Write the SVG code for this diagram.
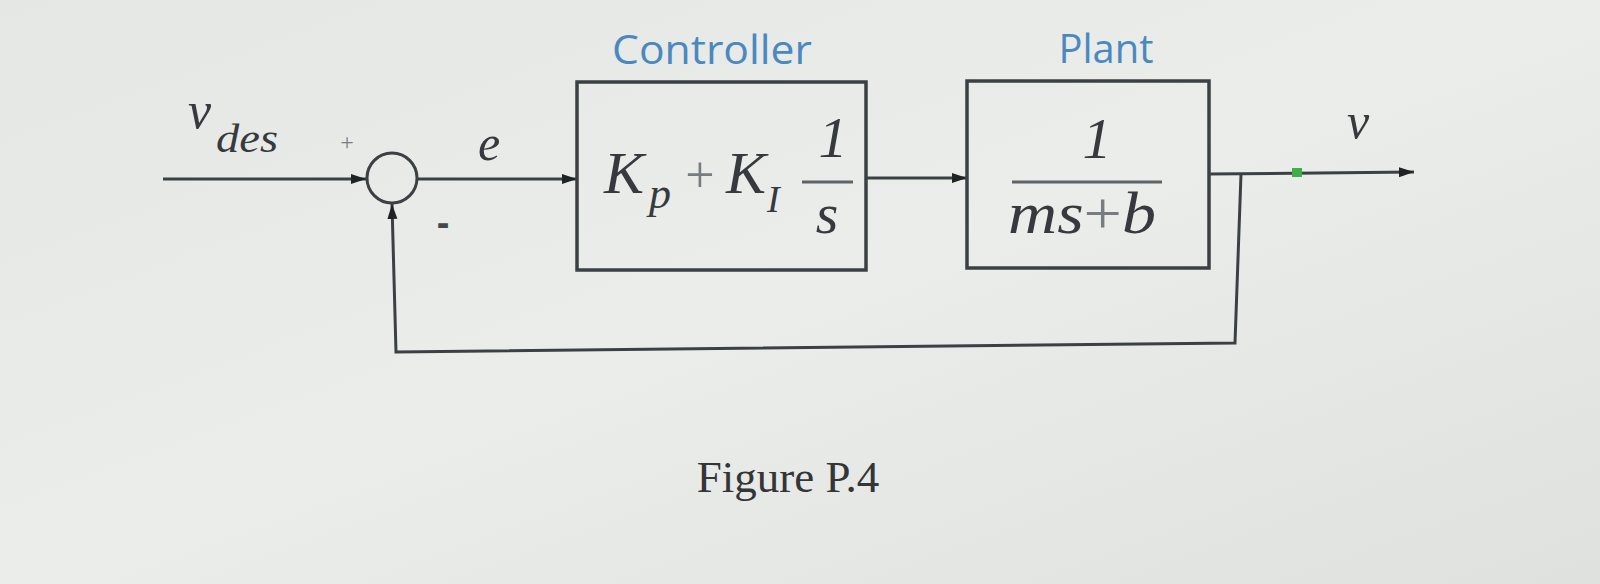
<svg xmlns="http://www.w3.org/2000/svg" width="1600" height="584" viewBox="0 0 1600 584">
  <defs>
    <linearGradient id="bg" x1="0" y1="0" x2="1" y2="1">
      <stop offset="0" stop-color="#e4e7e4"/>
      <stop offset="0.5" stop-color="#ebedea"/>
      <stop offset="1" stop-color="#dfe1de"/>
    </linearGradient>
    <marker id="arr" markerUnits="userSpaceOnUse" markerWidth="16" markerHeight="12" refX="15" refY="6" orient="auto">
      <path d="M0,1 L15,6 L0,11 z" fill="#1f2326"/>
    </marker>
    <style>
      .wire { fill: none; stroke: #3b4045; stroke-width: 3; }
      .box { fill: none; stroke: #3b4045; stroke-width: 3.5; }
      .title { font-family: "Open Sans", "Liberation Sans", sans-serif; fill: #4a89c0; font-size: 40px; }
      .math { font-family: "Liberation Serif", serif; font-style: italic; fill: #363a3e; }
      .up { font-family: "Liberation Serif", serif; fill: #777c80; }
      .cap { font-family: "Liberation Serif", serif; fill: #333536; font-size: 45px; }
    </style>
  </defs>
  <rect width="1600" height="584" fill="url(#bg)"/>

  <g id="connectors">
    <line class="wire" x1="163" y1="179" x2="366" y2="179" marker-end="url(#arr)"/>
    <line class="wire" x1="417" y1="179" x2="577" y2="179" marker-end="url(#arr)"/>
    <line class="wire" x1="866" y1="178" x2="967" y2="178" marker-end="url(#arr)"/>
    <line class="wire" x1="1209" y1="174" x2="1414" y2="172" marker-end="url(#arr)"/>
    <polyline class="wire" points="1241,174 1235,343 396,352 392,204" marker-end="url(#arr)"/>
  </g>

  <g id="sum">
    <circle cx="392" cy="178" r="25" fill="none" stroke="#3b4045" stroke-width="3"/>
    <text class="up" x="347" y="150" font-size="24" text-anchor="middle" fill="#a0a4a4">+</text>
    <text x="443" y="236" font-family="Liberation Sans, sans-serif" font-size="38" font-weight="bold" text-anchor="middle" fill="#44484c">-</text>
  </g>

  <g id="input-label">
    <text class="math" x="188" y="128" font-size="52">v</text>
    <text class="math" x="216" y="152" font-size="40" textLength="62" lengthAdjust="spacingAndGlyphs">des</text>
  </g>

  <g id="error-label">
    <text class="math" x="478" y="160" font-size="50" fill="#6c7274">e</text>
  </g>

  <g id="controller">
    <text class="title" x="712" y="64" text-anchor="middle" textLength="200" lengthAdjust="spacingAndGlyphs">Controller</text>
    <rect class="box" x="577" y="82" width="289" height="188"/>
    <text class="math" x="604" y="193" font-size="60">K</text>
    <text class="math" x="649" y="208" font-size="44">p</text>
    <text class="up" x="700" y="192" font-size="52" text-anchor="middle">+</text>
    <text class="math" x="726" y="193" font-size="60">K</text>
    <text class="math" x="767" y="212" font-size="38">I</text>
    <text class="math" x="833" y="157" font-size="58" text-anchor="middle">1</text>
    <line x1="802" y1="182" x2="853" y2="182" stroke="#5d6468" stroke-width="3"/>
    <text class="math" x="827" y="233" font-size="58" text-anchor="middle">s</text>
  </g>

  <g id="plant">
    <text class="title" x="1106" y="63" text-anchor="middle" textLength="95" lengthAdjust="spacingAndGlyphs">Plant</text>
    <rect class="box" x="967" y="81" width="242" height="187"/>
    <text class="math" x="1097" y="158" font-size="58" text-anchor="middle">1</text>
    <line x1="1012" y1="182" x2="1162" y2="182" stroke="#5d6468" stroke-width="3"/>
    <text class="math" x="1082" y="233" font-size="60" text-anchor="middle" textLength="148" lengthAdjust="spacingAndGlyphs">ms<tspan font-style="normal" fill="#777c80">+</tspan>b</text>
  </g>

  <g id="output">
    <rect x="1292" y="168" width="10" height="9" fill="#3fae49"/>
    <text class="math" x="1347" y="138" font-size="50">v</text>
  </g>

  <g id="caption">
    <text class="cap" x="788" y="492" text-anchor="middle">Figure P.4</text>
  </g>
</svg>
